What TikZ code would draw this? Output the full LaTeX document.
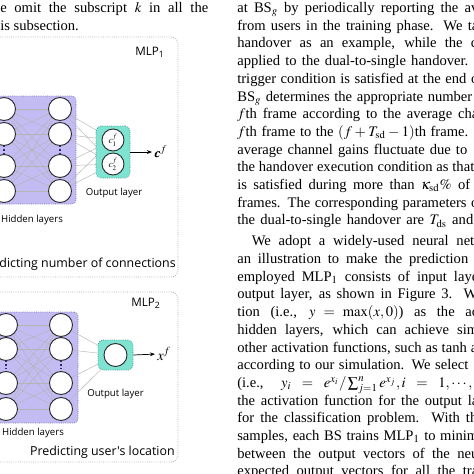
\documentclass[tikz,border=0pt]{standalone}
\usepackage{mathptmx}
\usepackage{bm}
\usepackage{fontspec}
\setmainfont{Liberation Serif}
\newfontfamily\figfont{Open Sans}
\usetikzlibrary{arrows.meta,positioning,calc}
\definecolor{panelgray}{HTML}{A8A8A8}
\definecolor{hiddenfill}{HTML}{C3BCF2}
\definecolor{hiddenedge}{HTML}{6E66A8}
\definecolor{outfill}{HTML}{7FE3D2}
\definecolor{outedge}{HTML}{3E8C84}
\definecolor{wiregray}{HTML}{B4B4B4}
\definecolor{dotnavy}{HTML}{2E2A6E}
\definecolor{ringgray}{HTML}{2B2B2B}
\newlength\pxu
\setlength\pxu{0.6857pt}
\pgfdeclarelayer{boxes}
\pgfdeclarelayer{wires}
\pgfsetlayers{boxes,wires,main}
\tikzset{
  panelbox/.style={draw=panelgray, densely dotted, line width=0.5pt, rounded corners=7\pxu},
  hiddenbox/.style={fill=hiddenfill, draw=hiddenedge, densely dotted, line width=0.5pt, rounded corners=4\pxu, inner sep=0},
  outbox/.style={fill=outfill, draw=outedge, densely dotted, line width=0.5pt, rounded corners=5\pxu, inner sep=0},
  neuron/.style={circle, draw=ringgray, fill=white, line width=0.65pt, minimum size=23\pxu, inner sep=0},
  wire/.style={draw=wiregray, line width=0.3pt},
  dotsline/.style={draw=dotnavy, line width=1.1pt, dash pattern=on 0.9pt off 1.4pt},
  outarrow/.style={-{Stealth[length=3.5pt,width=2.6pt]}, line width=0.5pt, shorten >=2\pxu},
  figsmall/.style={font=\figfont\fontsize{6.6}{7.5}\selectfont, inner sep=0},
  figbig/.style={font=\figfont\fontsize{8.5}{9.5}\selectfont, inner sep=0},
  paperline/.style={anchor=base west, inner sep=0, font=\fontsize{10}{12}\selectfont},
}

\begin{document}
\begin{tikzpicture}[x=0.6857pt,y=-0.6857pt]
\useasboundingbox (0,0) rectangle (474,474);
\begin{pgfonlayer}{boxes}
\fill[white] (0,0) rectangle (474,474);
\end{pgfonlayer}
\clip (0,0) rectangle (474,474);

% left column text
\node[paperline] (l1) at (0,12.5) {\makebox[208\pxu][s]{e omit the subscript $k$ in all the}};
\node[paperline] (l2) at (0,30.2) {is subsection.};

% MLP1 panel
\draw[panelbox] (-30,37) rectangle (178,277);
\node[figbig, font=\figfont\fontsize{8}{9}\selectfont] (p1name) at (150,52) {MLP\textsubscript{1}};
\begin{pgfonlayer}{boxes}
\node[hiddenbox, minimum width=120\pxu, minimum height=108\pxu] (p1hid) at (16,150) {};
\end{pgfonlayer}
\foreach \i/\y in {1/109,2/134,3/166,4/191}{
  \node[neuron] (p1a\i) at (4,\y) {};
  \node[neuron] (p1b\i) at (60,\y) {};
}
\node[outbox, minimum width=34\pxu, minimum height=52\pxu] (p1out) at (113,152) {};
\node[neuron, minimum size=22\pxu, font=\fontsize{6.5}{7}\selectfont] (p1o1) at (113,140) {$c_1^f$};
\node[neuron, minimum size=22\pxu, font=\fontsize{6.5}{7}\selectfont] (p1o2) at (113,164) {$c_2^f$};
\begin{pgfonlayer}{wires}
\foreach \i in {1,...,4}{
  \foreach \j in {1,...,4} \draw[wire] (p1a\i) -- (p1b\j);
  \foreach \j in {1,2} \draw[wire] (p1b\i) -- (p1o\j);
}
\end{pgfonlayer}
\draw[dotsline] (p1a2.south) -- (p1a3.north);
\draw[dotsline] (p1b2.south) -- (p1b3.north);
\node[inner sep=0, anchor=west, font=\fontsize{9}{10}\selectfont] (p1res) at (154,152) {$\bm{c}^f$};
\draw[outarrow] (p1out.east) -- (p1res.west);
\node[figsmall] (p1outlbl) at (114,193) {Output layer};
\node[figsmall] (p1hidlbl) at (32,220) {Hidden layers};
\node[figbig, anchor=east] (p1task) at (176,264) {Predicting number of connections};

% MLP2 panel
\draw[panelbox] (-30,292) rectangle (178,462);
\node[figbig, font=\figfont\fontsize{8}{9}\selectfont] (p2name) at (146,303) {MLP\textsubscript{2}};
\begin{pgfonlayer}{boxes}
\node[hiddenbox, minimum width=122\pxu, minimum height=111\pxu] (p2hid) at (17,367.5) {};
\end{pgfonlayer}
\foreach \i/\y in {1/325,2/349,3/383,4/409}{
  \node[neuron] (p2a\i) at (6,\y) {};
  \node[neuron] (p2b\i) at (61,\y) {};
}
\node[outbox, minimum width=35\pxu, minimum height=30\pxu] (p2out) at (115.5,355) {};
\node[neuron] (p2o1) at (115.5,355) {};
\begin{pgfonlayer}{wires}
\foreach \i in {1,...,4}{
  \foreach \j in {1,...,4} \draw[wire] (p2a\i) -- (p2b\j);
  \draw[wire] (p2b\i) -- (p2o1);
}
\end{pgfonlayer}
\draw[dotsline] (p2a2.south) -- (p2a3.north);
\draw[dotsline] (p2b2.south) -- (p2b3.north);
\node[inner sep=0, anchor=west, font=\fontsize{10}{11}\selectfont] (p2res) at (157,354) {$x^f$};
\draw[outarrow] (p2out.east) -- (p2res.west);
\node[figsmall] (p2outlbl) at (115.5,394) {Output layer};
\node[figsmall] (p2hidlbl) at (33,433) {Hidden layers};
\node[figbig, anchor=east] (p2task) at (175,452) {Predicting user's location};

% right column text
\node[paperline] (r1) at (237,12.5) {\makebox[241\pxu][s]{at BS$_g$ by periodically reporting the av}};
\node[paperline] (r2) at (237,30.2) {\makebox[241\pxu][s]{from users in the training phase. We ta}};
\node[paperline] (r3) at (237,47.9) {\makebox[240\pxu][s]{handover as an example, while the c}};
\node[paperline] (r4) at (237,65.6) {\makebox[231\pxu][s]{applied to the dual-to-single handover.}};
\node[paperline] (r5) at (237,83.3) {\makebox[241\pxu][s]{trigger condition is satisfied at the end o}};
\node[paperline] (r6) at (237,101) {\makebox[235\pxu][s]{BS$_g$ determines the appropriate number}};
\node[paperline] (r7) at (237,118.7) {\makebox[241\pxu][s]{$f$th frame according to the average cha}};
\node[paperline] (r8) at (237,136.4) {\makebox[231\pxu][s]{$f$th frame to the $(f+T_{\mathrm{sd}}-1)$th frame.}};
\node[paperline] (r9) at (237,154.1) {\makebox[230\pxu][s]{average channel gains fluctuate due to}};
\node[paperline] (r10) at (237,171.8) {\makebox[237\pxu][s]{the handover execution condition as that}};
\node[paperline] (r11) at (237,189.5) {\makebox[233\pxu][s]{is satisfied during more than $\kappa_{\mathrm{sd}}\%$ of}};
\node[paperline] (r12) at (237,207.2) {\makebox[241\pxu][s]{frames. The corresponding parameters o}};
\node[paperline] (r13) at (237,224.9) {\makebox[236\pxu][s]{the dual-to-single handover are $T_{\mathrm{ds}}$ and}};
\node[paperline] (r14) at (237,245) {\makebox[237\pxu][s]{\hspace*{1em}We adopt a widely-used neural net}};
\node[paperline] (r15) at (237,263.5) {\makebox[231\pxu][s]{an illustration to make the prediction}};
\node[paperline] (r16) at (237,281.2) {\makebox[241\pxu][s]{employed MLP$_1$ consists of input laye}};
\node[paperline] (r17) at (237,298.9) {\makebox[240\pxu][s]{output layer, as shown in Figure 3. W}};
\node[paperline] (r18) at (237,316.6) {\makebox[241\pxu][s]{tion (i.e., $y = \max(x,0)$) as the ac}};
\node[paperline] (r19) at (237,334.3) {\makebox[241\pxu][s]{hidden layers, which can achieve sim}};
\node[paperline] (r20) at (237,352) {\makebox[240\pxu][s]{other activation functions, such as tanh a}};
\node[paperline] (r21) at (237,369.7) {\makebox[231\pxu][s]{according to our simulation. We select}};
\node[paperline] (r22) at (237,387.4) {\makebox[235\pxu][s]{(i.e., $y_i = e^{x_i}/\sum_{j=1}^{n} e^{x_j}, i = 1, \cdots,$}};
\node[paperline] (r23) at (237,405.1) {\makebox[241\pxu][s]{the activation function for the output la}};
\node[paperline] (r24) at (237,422.8) {\makebox[240\pxu][s]{for the classification problem. With th}};
\node[paperline] (r25) at (237,440.5) {\makebox[241\pxu][s]{samples, each BS trains MLP$_1$ to minim}};
\node[paperline] (r26) at (237,458.2) {\makebox[241\pxu][s]{between the output vectors of the neu}};
\node[paperline] (r27) at (237,475.9) {\makebox[241\pxu][s]{expected output vectors for all the tra}};
\end{tikzpicture}
\end{document}
